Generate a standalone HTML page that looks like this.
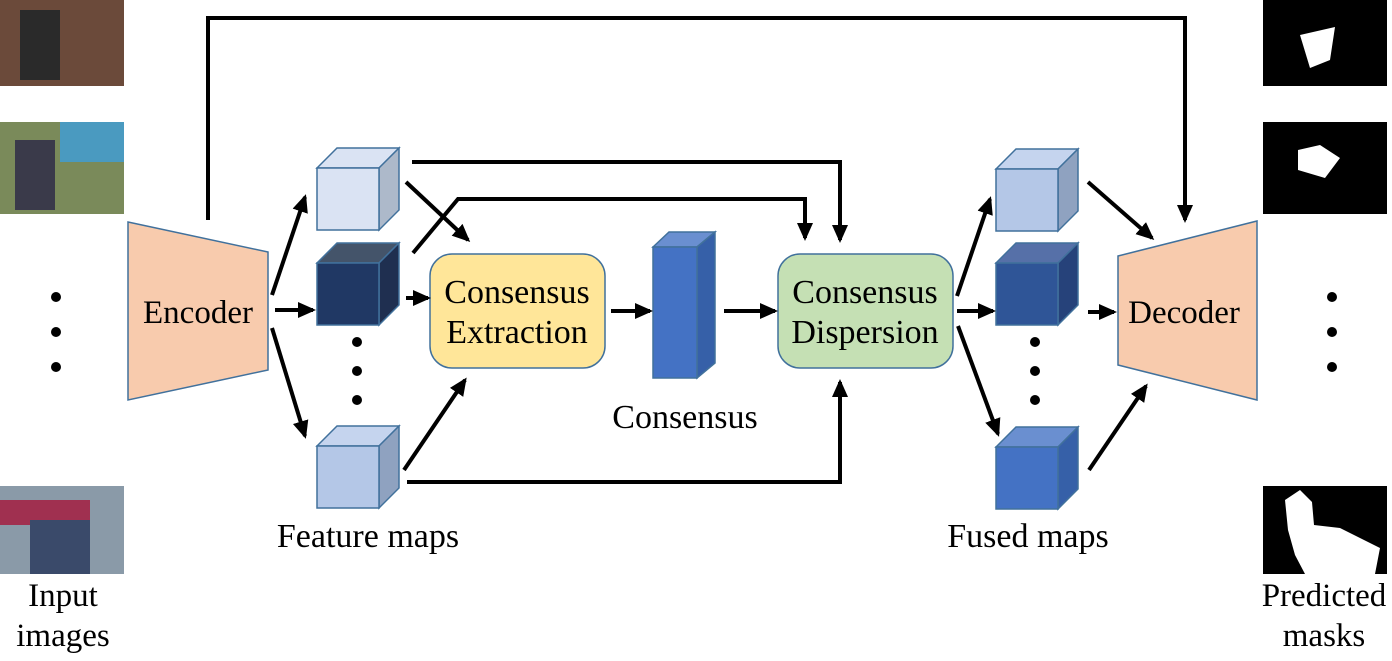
<!DOCTYPE html>
<html><head><style>
body{margin:0;background:#fff;}
svg text{font-family:"Liberation Serif",serif;fill:#000;}
</style></head><body>
<svg width="1392" height="656" viewBox="0 0 1392 656" xmlns="http://www.w3.org/2000/svg">
<defs>
<marker id="b" markerWidth="20" markerHeight="20" refX="15" refY="10" orient="auto" markerUnits="userSpaceOnUse">
<path d="M0,2 L18,10 L0,18 z" fill="#000"/>
</marker>
</defs>
<!-- images -->
<rect x="0" y="0" width="124" height="86" fill="#6b4a3a"/>
<rect x="20" y="10" width="40" height="70" fill="#2a2a2a"/>
<rect x="0" y="122" width="124" height="92" fill="#7a8a5a"/>
<rect x="60" y="122" width="64" height="40" fill="#4a9ac0"/>
<rect x="15" y="140" width="40" height="70" fill="#3a3a4a"/>
<rect x="0" y="486" width="124" height="88" fill="#8a9aa8"/>
<rect x="0" y="500" width="90" height="25" fill="#a03050"/>
<rect x="30" y="520" width="60" height="54" fill="#3a4a6a"/>
<!-- masks -->
<rect x="1263" y="0" width="124" height="86" fill="#000"/>
<path d="M1300,35 L1335,27 L1330,60 L1310,68 z" fill="#fff"/>
<rect x="1263" y="122" width="124" height="92" fill="#000"/>
<path d="M1298,150 L1320,145 L1340,158 L1325,178 L1298,170 z" fill="#fff"/>
<rect x="1263" y="486" width="124" height="88" fill="#000"/>
<path d="M1285,500 L1300,490 L1312,502 L1314,525 L1340,528 L1380,548 L1375,574 L1305,574 L1295,555 L1288,530 z" fill="#fff"/>
<!-- text side -->
<g font-size="33" text-anchor="middle">
<text x="63" y="606">Input</text><text x="63" y="646">images</text>
<text x="1324" y="606">Predicted</text><text x="1324" y="646">masks</text>
</g>
<g fill="#000">
<circle cx="56" cy="297" r="5"/><circle cx="56" cy="332" r="5"/><circle cx="56" cy="367" r="5"/>
<circle cx="1332" cy="297" r="5"/><circle cx="1332" cy="332" r="5"/><circle cx="1332" cy="367" r="5"/>
<circle cx="357" cy="342" r="5"/><circle cx="357" cy="371" r="5"/><circle cx="357" cy="400" r="5"/>
<circle cx="1035" cy="342" r="5"/><circle cx="1035" cy="371" r="5"/><circle cx="1035" cy="400" r="5"/>
</g>
<!-- encoder/decoder -->
<path d="M128,222 L268,252 L268,370 L128,400 z" fill="#f8cbad" stroke="#41719c" stroke-width="1.5"/>
<text x="198" y="323" font-size="33" text-anchor="middle">Encoder</text>
<path d="M1118,256 L1257,221 L1257,400 L1118,365 z" fill="#f8cbad" stroke="#41719c" stroke-width="1.5"/>
<text x="1184" y="323" font-size="33" text-anchor="middle">Decoder</text>
<!-- cubes -->
<g stroke="#41719c" stroke-width="1.5">
<path d="M317,168 L337,148 L399,148 L379,168 z" fill="#dae3f3"/><path d="M379,168 L399,148 L399,210 L379,230 z" fill="#adb9ca"/><rect x="317" y="168" width="62" height="62" fill="#dae3f3"/>
<path d="M317,263 L337,243 L399,243 L379,263 z" fill="#44546a"/><path d="M379,263 L399,243 L399,305 L379,325 z" fill="#1f2f50"/><rect x="317" y="263" width="62" height="62" fill="#203864"/>
<path d="M317,446 L337,426 L399,426 L379,446 z" fill="#c5d4ee"/><path d="M379,446 L399,426 L399,488 L379,508 z" fill="#8fa2c0"/><rect x="317" y="446" width="62" height="62" fill="#b4c7e7"/>

<path d="M996,169 L1016,149 L1078,149 L1058,169 z" fill="#c5d4ee"/><path d="M1058,169 L1078,149 L1078,211 L1058,231 z" fill="#8fa2c0"/><rect x="996" y="169" width="62" height="62" fill="#b4c7e7"/>
<path d="M996,263 L1016,243 L1078,243 L1058,263 z" fill="#5670a8"/><path d="M1058,263 L1078,243 L1078,305 L1058,325 z" fill="#26427a"/><rect x="996" y="263" width="62" height="62" fill="#2f5597"/>
<path d="M996,447 L1016,427 L1078,427 L1058,447 z" fill="#6a8fd0"/><path d="M1058,447 L1078,427 L1078,489 L1058,509 z" fill="#3660a8"/><rect x="996" y="447" width="62" height="62" fill="#4472c4"/>

<path d="M653,247 L669,232 L715,232 L697,247 z" fill="#6a8fd0"/><path d="M697,247 L715,232 L715,363 L697,378 z" fill="#3660a8"/><rect x="653" y="247" width="44" height="131" fill="#4472c4"/>
</g>
<!-- boxes -->
<rect x="430" y="254" width="175" height="114" rx="22" fill="#ffe699" stroke="#41719c" stroke-width="1.5"/>
<text x="517" y="303" font-size="34" text-anchor="middle">Consensus</text>
<text x="517" y="343" font-size="34" text-anchor="middle">Extraction</text>
<rect x="778" y="254" width="175" height="114" rx="22" fill="#c5e0b4" stroke="#41719c" stroke-width="1.5"/>
<text x="865" y="303" font-size="34" text-anchor="middle">Consensus</text>
<text x="865" y="343" font-size="34" text-anchor="middle">Dispersion</text>
<g font-size="34" text-anchor="middle">
<text x="685" y="428">Consensus</text>
<text x="368" y="547">Feature maps</text>
<text x="1028" y="547">Fused maps</text>
</g>
<!-- arrows -->
<g stroke="#000" stroke-width="4" fill="none" marker-end="url(#b)">
<path d="M208,220 L208,18 L1185,18 L1185,220"/>
<path d="M412,162 L840,162 L840,240"/>
<path d="M413,253 L458,199 L805,199 L805,238"/>
<path d="M407,482 L840,482 L840,382"/>
<path d="M406,182 L468,240"/>
<path d="M404,470 L465,380"/>
<path d="M406,298 L428,298"/>
<path d="M611,311 L650,311"/>
<path d="M724,311 L775,311"/>
<path d="M275,310 L313,310"/>
<path d="M272,295 L305,197"/>
<path d="M272,328 L305,436"/>
<path d="M957,296 L990,199"/>
<path d="M957,311 L993,311"/>
<path d="M958,326 L998,434"/>
<path d="M1088,312 L1114,312"/>
<path d="M1088,182 L1152,238"/>
<path d="M1089,470 L1146,386"/>
</g>
</svg>
</body></html>
